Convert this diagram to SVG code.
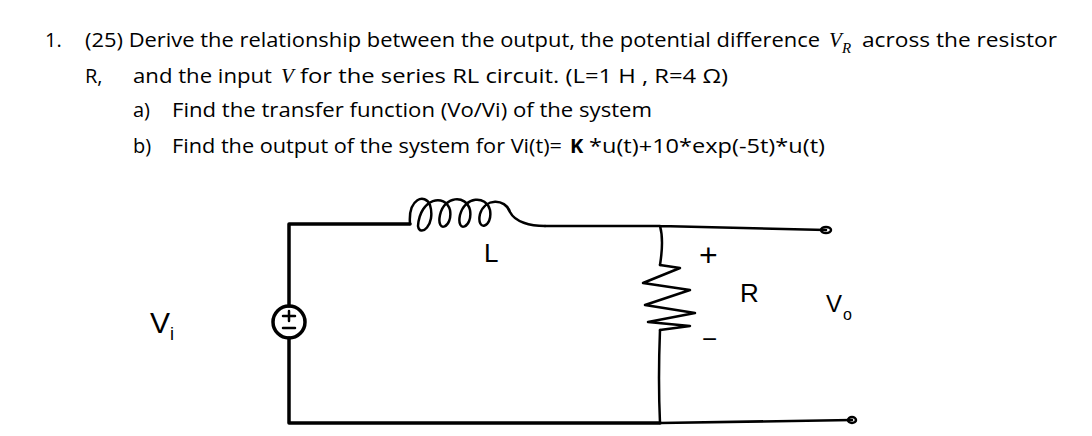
<svg xmlns="http://www.w3.org/2000/svg" width="1092" height="436" viewBox="0 0 1092 436">
<style>
.t{font-family:"Open Sans","Liberation Sans",sans-serif;font-size:20px;fill:#000}
.i{font-family:"Liberation Serif",serif;font-style:italic;font-size:21px}
.h{font-family:"Liberation Sans",sans-serif;font-size:26px;fill:#000}
.w{fill:none;stroke:#000;stroke-width:3.5;stroke-linecap:round;stroke-linejoin:round}
.s{fill:none;stroke:#000;stroke-width:2.5;stroke-linecap:round;stroke-linejoin:round}
</style>
<rect width="1092" height="436" fill="#fff"/>
<g id="text">
<text class="t" x="45" y="47">1.</text>
<text class="t" x="85" y="47" textLength="735" lengthAdjust="spacingAndGlyphs">(25) Derive the relationship between the output, the potential difference</text>
<text class="i" x="829" y="47">V</text><text class="i" x="842" y="53" style="font-size:15px">R</text>
<text class="t" x="862" y="47" textLength="195" lengthAdjust="spacingAndGlyphs">across the resistor</text>
<text class="t" x="85" y="83">R,</text>
<text class="t" x="133" y="83" textLength="139" lengthAdjust="spacingAndGlyphs">and the input</text>
<text class="i" x="281" y="83">V</text>
<text class="t" x="300" y="83" textLength="428" lengthAdjust="spacingAndGlyphs">for the series RL circuit.  (L=1 H , R=4 Ω)</text>
<text class="t" x="133" y="117">a)</text>
<text class="t" x="172" y="117" textLength="480" lengthAdjust="spacingAndGlyphs">Find the transfer function (Vo/Vi) of the system</text>
<text class="t" x="133" y="153">b)</text>
<text class="t" x="172" y="153" textLength="390" lengthAdjust="spacingAndGlyphs">Find the output of the system for Vi(t)=</text>
<text class="t" x="570" y="153" font-weight="bold">K</text>
<text class="t" x="589" y="153" textLength="236" lengthAdjust="spacingAndGlyphs">*u(t)+10*exp(-5t)*u(t)</text>
</g>
<g id="connectors">
<path class="w" d="M410 224 H289 V306 M289 338 V423 H660"/>
<path class="s" d="M545 226 L660 226 L826 230 M660 226 Q664 240 660 265 M660 330 Q658 380 660 423 L852 420"/>
</g>
<g id="inductor">
<path class="s" d="M410 224 C408 198 425 193 430 205 C436 225 420 238 418 226 C420 198 445 193 450 210 C453 228 436 234 440 215 C444 196 466 194 470 210 C473 228 456 234 460 215 C465 196 486 195 490 210 C493 228 476 232 480 214 C485 198 505 198 510 212 C515 222 530 226 545 226"/>
<text class="h" x="484" y="262">L</text>
</g>
<g id="source">
<circle class="w" cx="289" cy="322" r="16"/>
<path class="s" d="M283 316 H295 M289 311 V321 M283 328 H295"/>
<text class="h" x="150" y="333" style="font-size:30px">V</text><text class="h" x="170" y="340" style="font-size:18px">i</text>
</g>
<g id="resistor">
<path class="s" d="M660 265 L680 268 L643 283 L690 290 L645 305 L695 313 L648 322 L690 326 L660 330"/>
<text class="h" x="699" y="266" style="font-size:32px">+</text>
<text class="h" x="740" y="302">R</text>
<text class="h" x="702" y="348">−</text>
</g>
<g id="terminals">
<ellipse class="s" cx="826" cy="230" rx="5" ry="3"/>
<ellipse class="s" cx="852" cy="420" rx="4" ry="3"/>
<text class="h" x="826" y="312" style="font-size:24px">V</text><text class="h" x="843" y="320" style="font-size:16px">o</text>
</g>
</svg>
